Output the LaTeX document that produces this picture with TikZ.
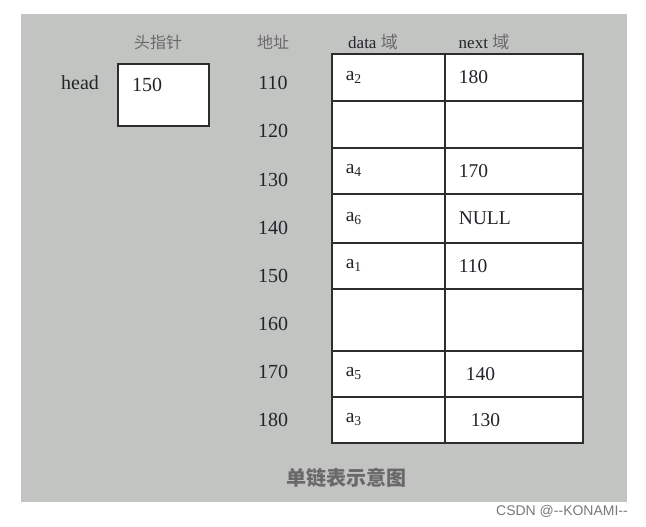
\documentclass[tikz,border=0pt]{standalone}
\usepackage{fontspec}
\setmainfont{Liberation Serif}
\newfontfamily\cjk{Noto Sans CJK SC}
\newfontfamily\wmfont{Liberation Sans}
\definecolor{panelgray}{RGB}{194, 196, 194}
\definecolor{inkdark}{RGB}{35, 35, 42}
\definecolor{inkgray}{RGB}{105, 105, 105}
\definecolor{gridline}{RGB}{45, 45, 45}
\definecolor{wmgray}{RGB}{120, 120, 120}
\usetikzlibrary{positioning}

\tikzset{
  txt/.style={text=inkdark, font=\fontsize{20}{23}\selectfont, inner sep=0pt},
  hdr/.style={text=inkgray, font=\fontsize{16}{19}\selectfont, inner sep=0pt},
  cell/.style={draw=gridline, line width=1.6pt, fill=white, anchor=north west,
    align=left, inner xsep=14pt, inner ysep=0pt, text=inkdark,
    font=\fontsize{19.5}{22}\selectfont},
  datacell/.style={cell, text width=85pt},
  nextcell/.style={cell, text width=110pt}
}

\begin{document}
\begin{tikzpicture}[x=1pt, y=-1pt]
  \useasboundingbox (0,0) rectangle (646,527);

  % Background panel
  \fill[panelgray] (21,14) rectangle (627,502);

  % Column headings
  \node[hdr] (hhead) at (158,42) {\cjk 头指针};
  \node[hdr] (haddr) at (273,42) {\cjk 地址};
  \node[hdr, text=inkdark, font=\fontsize{17}{20}\selectfont] (hdata) at (373,42) {data {\cjk\color{inkgray}域}};
  \node[hdr, text=inkdark, font=\fontsize{17}{20}\selectfont] (hnext) at (484,42) {next {\cjk\color{inkgray}域}};

  % Head pointer
  \node[txt] (headlbl) at (80,83) {head};
  \node[draw=gridline, line width=1.6pt, fill=white, anchor=north west,
    minimum width=91pt, minimum height=62pt, inner sep=0pt] (headbox) at (117,63) {};
  \node[txt, anchor=west] (headval) at (132,85) {150};

  % Addresses
  \node[txt] (a110) at (273,83) {110};
  \node[txt] (a120) at (273,131) {120};
  \node[txt] (a130) at (273,180) {130};
  \node[txt] (a140) at (273,228) {140};
  \node[txt] (a150) at (273,276) {150};
  \node[txt] (a160) at (273,324) {160};
  \node[txt] (a170) at (273,372) {170};
  \node[txt] (a180) at (273,420) {180};

  % data field
  \node[datacell, minimum height=47pt] (d110) at (331,53) {a\textsubscript{2}};
  \node[datacell, minimum height=47pt] (d120) at (331,100) {};
  \node[datacell, minimum height=46pt] (d130) at (331,147) {a\textsubscript{4}};
  \node[datacell, minimum height=49pt] (d140) at (331,193) {a\textsubscript{6}};
  \node[datacell, minimum height=46pt] (d150) at (331,242) {a\textsubscript{1}};
  \node[datacell, minimum height=62pt] (d160) at (331,288) {};
  \node[datacell, minimum height=46pt] (d170) at (331,350) {a\textsubscript{5}};
  \node[datacell, minimum height=46pt] (d180) at (331,396) {a\textsubscript{3}};

  % next field
  \node[nextcell, minimum height=47pt] (n110) at (444,53) {180};
  \node[nextcell, minimum height=47pt] (n120) at (444,100) {};
  \node[nextcell, minimum height=46pt] (n130) at (444,147) {170};
  \node[nextcell, minimum height=49pt] (n140) at (444,193) {NULL};
  \node[nextcell, minimum height=46pt] (n150) at (444,242) {110};
  \node[nextcell, minimum height=62pt] (n160) at (444,288) {};
  \node[nextcell, minimum height=46pt] (n170) at (444,350) {\hspace{7pt}140};
  \node[nextcell, minimum height=46pt] (n180) at (444,396) {\hspace{12pt}130};

  % Caption
  \node[hdr, font=\fontsize{20}{24}\selectfont\cjk\bfseries, text=inkgray] (caption) at (346,478) {单链表示意图};

  % Watermark
  \node[text=wmgray, font=\fontsize{14}{16}\selectfont\wmfont, inner sep=0pt] (wm) at (562,511) {CSDN @--KONAMI--};
\end{tikzpicture}
\end{document}
